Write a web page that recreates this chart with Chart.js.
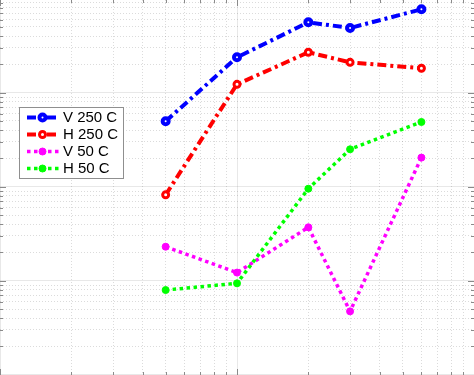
<!DOCTYPE html>
<html>
<head>
<meta charset="utf-8">
<script src="https://cdn.jsdelivr.net/npm/chart.js@4.4.1/dist/chart.umd.min.js"></script>
<style>
    html, body { margin: 0; padding: 0; background: #fff; }
    canvas { display: block; }
</style>
</head>
<body>
<canvas id="plot" width="474" height="375"></canvas>
<script>
// Data (log-log axes)
const xValues = [5, 10, 20, 30, 60];
const labels = ['V 250 C', 'H 250 C', 'V 50 C', 'H 50 C'];
const v250 = [497, 2380, 5610, 4880, 7710];
const h250 = [82, 1228, 2690, 2105, 1818];
const v50 = [23.0, 12.2, 37.0, 4.72, 204];
const h50 = [7.96, 9.38, 95.2, 250, 488];

// Axis ranges and decade ticks (1..9 per decade)
const xRange = [1, 100];
const yRange = [0.993, 9686];
const xDecades = [0, 1, 2];
const yDecades = [0, 1, 2, 3, 4];

function decadeTicks(decades, range) {
    const out = [];
    decades.forEach(d => {
        for (let m = 1; m <= 9; m++) {
            const v = m * Math.pow(10, d);
            if (v >= range[0] && v <= range[1]) out.push({ value: v, major: m === 1 });
        }
    });
    return out;
}

function points(ys) {
    return xValues.map((x, i) => ({ x: x, y: ys[i] }));
}

// MATLAB-like inward tick marks on all four sides
const edgeTicks = {
    id: 'edgeTicks',
    beforeDatasetsDraw(chart) {
        const { ctx, chartArea: a, scales: { x, y } } = chart;
        ctx.save();
        ctx.strokeStyle = '#8a8a8a';
        ctx.lineWidth = 1;
        ctx.beginPath();
        x.ticks.forEach(t => {
            const px = Math.round(x.getPixelForValue(t.value)) + 0.5;
            const len = t.major ? 6 : 3;
            ctx.moveTo(px, a.bottom); ctx.lineTo(px, a.bottom - len);
            ctx.moveTo(px, a.top); ctx.lineTo(px, a.top + len);
        });
        y.ticks.forEach(t => {
            const py = Math.round(y.getPixelForValue(t.value)) + 0.5;
            const len = t.major ? 6 : 3;
            ctx.moveTo(a.left, py); ctx.lineTo(a.left + len, py);
            ctx.moveTo(a.right, py); ctx.lineTo(a.right - len, py);
        });
        ctx.stroke();
        ctx.restore();
    }
};

// Boxed legend inside the axes
const boxLegend = {
    id: 'boxLegend',
    afterDraw(chart) {
        const ctx = chart.ctx;
        ctx.save();
        ctx.fillStyle = '#fff';
        ctx.fillRect(19.5, 107.5, 104, 71);
        ctx.strokeStyle = '#8f8f8f';
        ctx.lineWidth = 1;
        ctx.strokeRect(19.5, 107.5, 104, 71);
        chart.data.datasets.forEach((ds, i) => {
            const cy = 117.5 + i * 17;
            ctx.setLineDash(ds.borderDash);
            ctx.lineWidth = ds.borderWidth;
            ctx.strokeStyle = ds.borderColor;
            ctx.beginPath();
            ctx.moveTo(27, cy);
            ctx.lineTo(60, cy);
            ctx.stroke();
            ctx.setLineDash([]);
            ctx.beginPath();
            ctx.arc(42.5, cy, ds.pointRadius, 0, Math.PI * 2);
            ctx.fillStyle = ds.pointBackgroundColor;
            ctx.fill();
            ctx.lineWidth = ds.pointBorderWidth;
            ctx.stroke();
            ctx.fillStyle = '#000';
            ctx.font = '15px "Liberation Sans", Arial, sans-serif';
            ctx.textBaseline = 'middle';
            ctx.fillText(ds.label, 63, cy + 0.5);
        });
        ctx.restore();
    }
};

function gridScale(range, decades) {
    return {
        type: 'logarithmic',
        min: range[0],
        max: range[1],
        afterBuildTicks: scale => { scale.ticks = decadeTicks(decades, range); },
        ticks: { display: false },
        grid: {
            drawTicks: false,
            lineWidth: 1,
            color: ctx => ctx.tick && ctx.tick.major ? 'rgba(0,0,0,0.09)' : 'rgba(0,0,0,0.14)'
        },
        border: {
            display: false,
            dash: ctx => ctx.tick && ctx.tick.major ? [] : [1, 2]
        }
    };
}

const dashDot = [9, 4, 3, 4];
const dotted = [3.5, 3.5];

new Chart(document.getElementById('plot').getContext('2d'), {
    type: 'line',
    data: {
        datasets: [
            {
                label: labels[0], data: points(v250), order: 4,
                borderColor: '#0000ff', borderWidth: 4, borderDash: dashDot,
                pointRadius: 3, pointBorderWidth: 4, pointBackgroundColor: '#ffffff',
                pointBorderColor: '#0000ff'
            },
            {
                label: labels[1], data: points(h250), order: 3,
                borderColor: '#ff0000', borderWidth: 4, borderDash: dashDot,
                pointRadius: 3, pointBorderWidth: 3, pointBackgroundColor: '#ffffff',
                pointBorderColor: '#ff0000'
            },
            {
                label: labels[2], data: points(v50), order: 2,
                borderColor: '#ff00ff', borderWidth: 3.5, borderDash: dotted,
                pointRadius: 3.5, pointBorderWidth: 1, pointBackgroundColor: '#ff00ff',
                pointBorderColor: '#ff00ff'
            },
            {
                label: labels[3], data: points(h50), order: 1,
                borderColor: '#00ff00', borderWidth: 3.5, borderDash: dotted,
                pointRadius: 3.5, pointBorderWidth: 1, pointBackgroundColor: '#00ff00',
                pointBorderColor: '#00ff00'
            }
        ]
    },
    options: {
        responsive: false,
        animation: false,
        devicePixelRatio: 1,
        layout: { padding: 0, autoPadding: false },
        plugins: {
            legend: { display: false },
            tooltip: { enabled: false }
        },
        scales: {
            x: gridScale(xRange, xDecades),
            y: gridScale(yRange, yDecades)
        }
    },
    plugins: [edgeTicks, boxLegend]
});
</script>
</body>
</html>
